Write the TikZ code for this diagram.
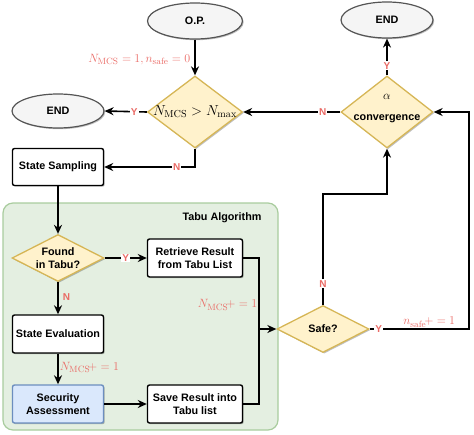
\documentclass[tikz,border=0pt]{standalone}
\usepackage{amsmath}
\usepackage{fontspec}
\setsansfont{Liberation Sans}
\usetikzlibrary{shapes.geometric,arrows.meta,shadows}
\definecolor{dfill}{HTML}{FFF2CC}
\definecolor{ddraw}{HTML}{D6B656}
\definecolor{efill}{HTML}{F5F5F5}
\definecolor{edraw}{HTML}{555555}
\definecolor{gfill}{HTML}{E4EFE1}
\definecolor{gdraw}{HTML}{A9CC9E}
\definecolor{bfill}{HTML}{DAE8FC}
\definecolor{bdraw}{HTML}{6C8EBF}
\definecolor{lred}{HTML}{EA6B66}
\tikzset{
  shd/.style={drop shadow={shadow xshift=1.2pt,shadow yshift=-1.2pt,opacity=0.25,fill=black}},
  tfont/.style={font=\sffamily\bfseries\fontsize{10.8}{13}\selectfont},
  term/.style={ellipse,draw=edraw,fill=efill,line width=1.2pt,minimum width=#1,minimum height=36pt,inner sep=0pt,tfont,shd},
  boxn/.style={rectangle,rounded corners=2pt,draw=black,fill=white,line width=1.4pt,minimum width=#1,minimum height=38pt,inner sep=0pt,align=center,tfont,shd},
  dia/.style 2 args={diamond,draw=ddraw,fill=dfill,line width=1.3pt,minimum width=#1,minimum height=#2,inner sep=0pt,shd},
  dtext/.style={align=center,inner sep=0pt,tfont},
  conn/.style={line width=1.6pt,-{Stealth[length=9pt,width=8pt]}},
  line/.style={line width=1.6pt},
  yn/.style={fill=white,inner sep=1pt,text=lred,font=\sffamily\bfseries\fontsize{10}{11}\selectfont},
  mlab/.style={text=lred,inner sep=1pt,font=\fontsize{13}{15}\selectfont}
}
\begin{document}
\begin{tikzpicture}[x=1pt,y=-1pt]
\useasboundingbox (0,0) rectangle (474,434);
% green group
\node[draw=gdraw,fill=gfill,line width=1.2pt,rounded corners=10pt,minimum width=275pt,minimum height=227pt,inner sep=0pt] (grp) at (140.5,316.5) {};
\node[dtext,anchor=center] (grptitle) at (222,218) {Tabu Algorithm};
% terminals
\node[term=95pt] (op) at (195,21) {O.P.};
\node[term=92pt] (endr) at (387,20) {END};
\node[term=92pt,minimum height=34pt] (endl) at (58,111) {END};
% diamonds
\node[dia={95pt}{72pt}] (d1) at (195,112) {};
\node[inner sep=0pt,font=\fontsize{14.5}{16}\selectfont] (d1t) at (d1) {$N_{\mathrm{MCS}}>N_{\max}$};
\node[dia={92pt}{72pt}] (conv) at (387,112) {};
\node[inner sep=0pt,font=\fontsize{12}{14}\selectfont] (alphat) at (387,97) {$\alpha$};
\node[dtext] (convt) at (387,119) {convergence};
\node[dia={92pt}{47pt}] (found) at (58,258) {};
\node[dtext] (foundt) at (found) {Found\\in Tabu?};
\node[dia={92pt}{47pt}] (safe) at (323,329) {};
\node[dtext] (safet) at (safe) {Safe?};
% boxes
\node[boxn=91pt,minimum height=37pt] (ss) at (58,167) {State Sampling};
\node[boxn=95pt] (retr) at (195,258) {Retrieve Result\\from Tabu List};
\node[boxn=91pt] (se) at (58,334) {State Evaluation};
\node[boxn=91pt,draw=bdraw,fill=bfill] (sa) at (58,404) {Security\\Assessment};
\node[boxn=95pt] (save) at (195,404) {Save Result into\\Tabu list};
% helper coordinates
\coordinate (j) at (259,329);
\coordinate (k) at (323,194);
\coordinate (m) at (469,329);
% connectors
\draw[conn] (op.south) -- node[mlab,anchor=east,pos=0.55,xshift=-3pt] {$N_{\mathrm{MCS}}=1, n_{\mathrm{safe}}=0$} (d1.north);
\draw[conn] (d1.west) -- node[yn,pos=0.3] {Y} (endl.east);
\draw[conn] (d1.south) |- node[yn,pos=0.6] {N} (ss.east);
\draw[conn] (conv.west) -- node[yn,pos=0.18] {N} (d1.east);
\draw[conn] (conv.north) -- node[yn,pos=0.26] {Y} (endr.south);
\draw[conn] (ss.south) -- (found.north);
\draw[conn] (found.east) -- node[yn,pos=0.5] {Y} (retr.west);
\draw[conn] (found.south) -- node[yn,fill=none,right=3pt,pos=0.45] {N} (se.north);
\draw[conn] (se.south) -- node[mlab,right,pos=0.45] {$N_{\mathrm{MCS}}\!+=1$} (sa.north);
\draw[conn] (sa.east) -- (save.west);
\draw[line] (retr.east) -| node[mlab,left,pos=0.83] {$N_{\mathrm{MCS}}\!+=1$} (j);
\draw[line] (save.east) -| (j);
\draw[conn] (j) -- (safe.west);
\draw[conn] (safe.north) -- node[yn,pos=0.19] {N} (k) -| (conv.south);
\draw[conn] (safe.east) -- node[yn,pos=0.09] {Y} node[mlab,above,pos=0.6] {$n_{\mathrm{safe}}\!+=1$} (m) |- (conv.east);
\end{tikzpicture}
\end{document}
